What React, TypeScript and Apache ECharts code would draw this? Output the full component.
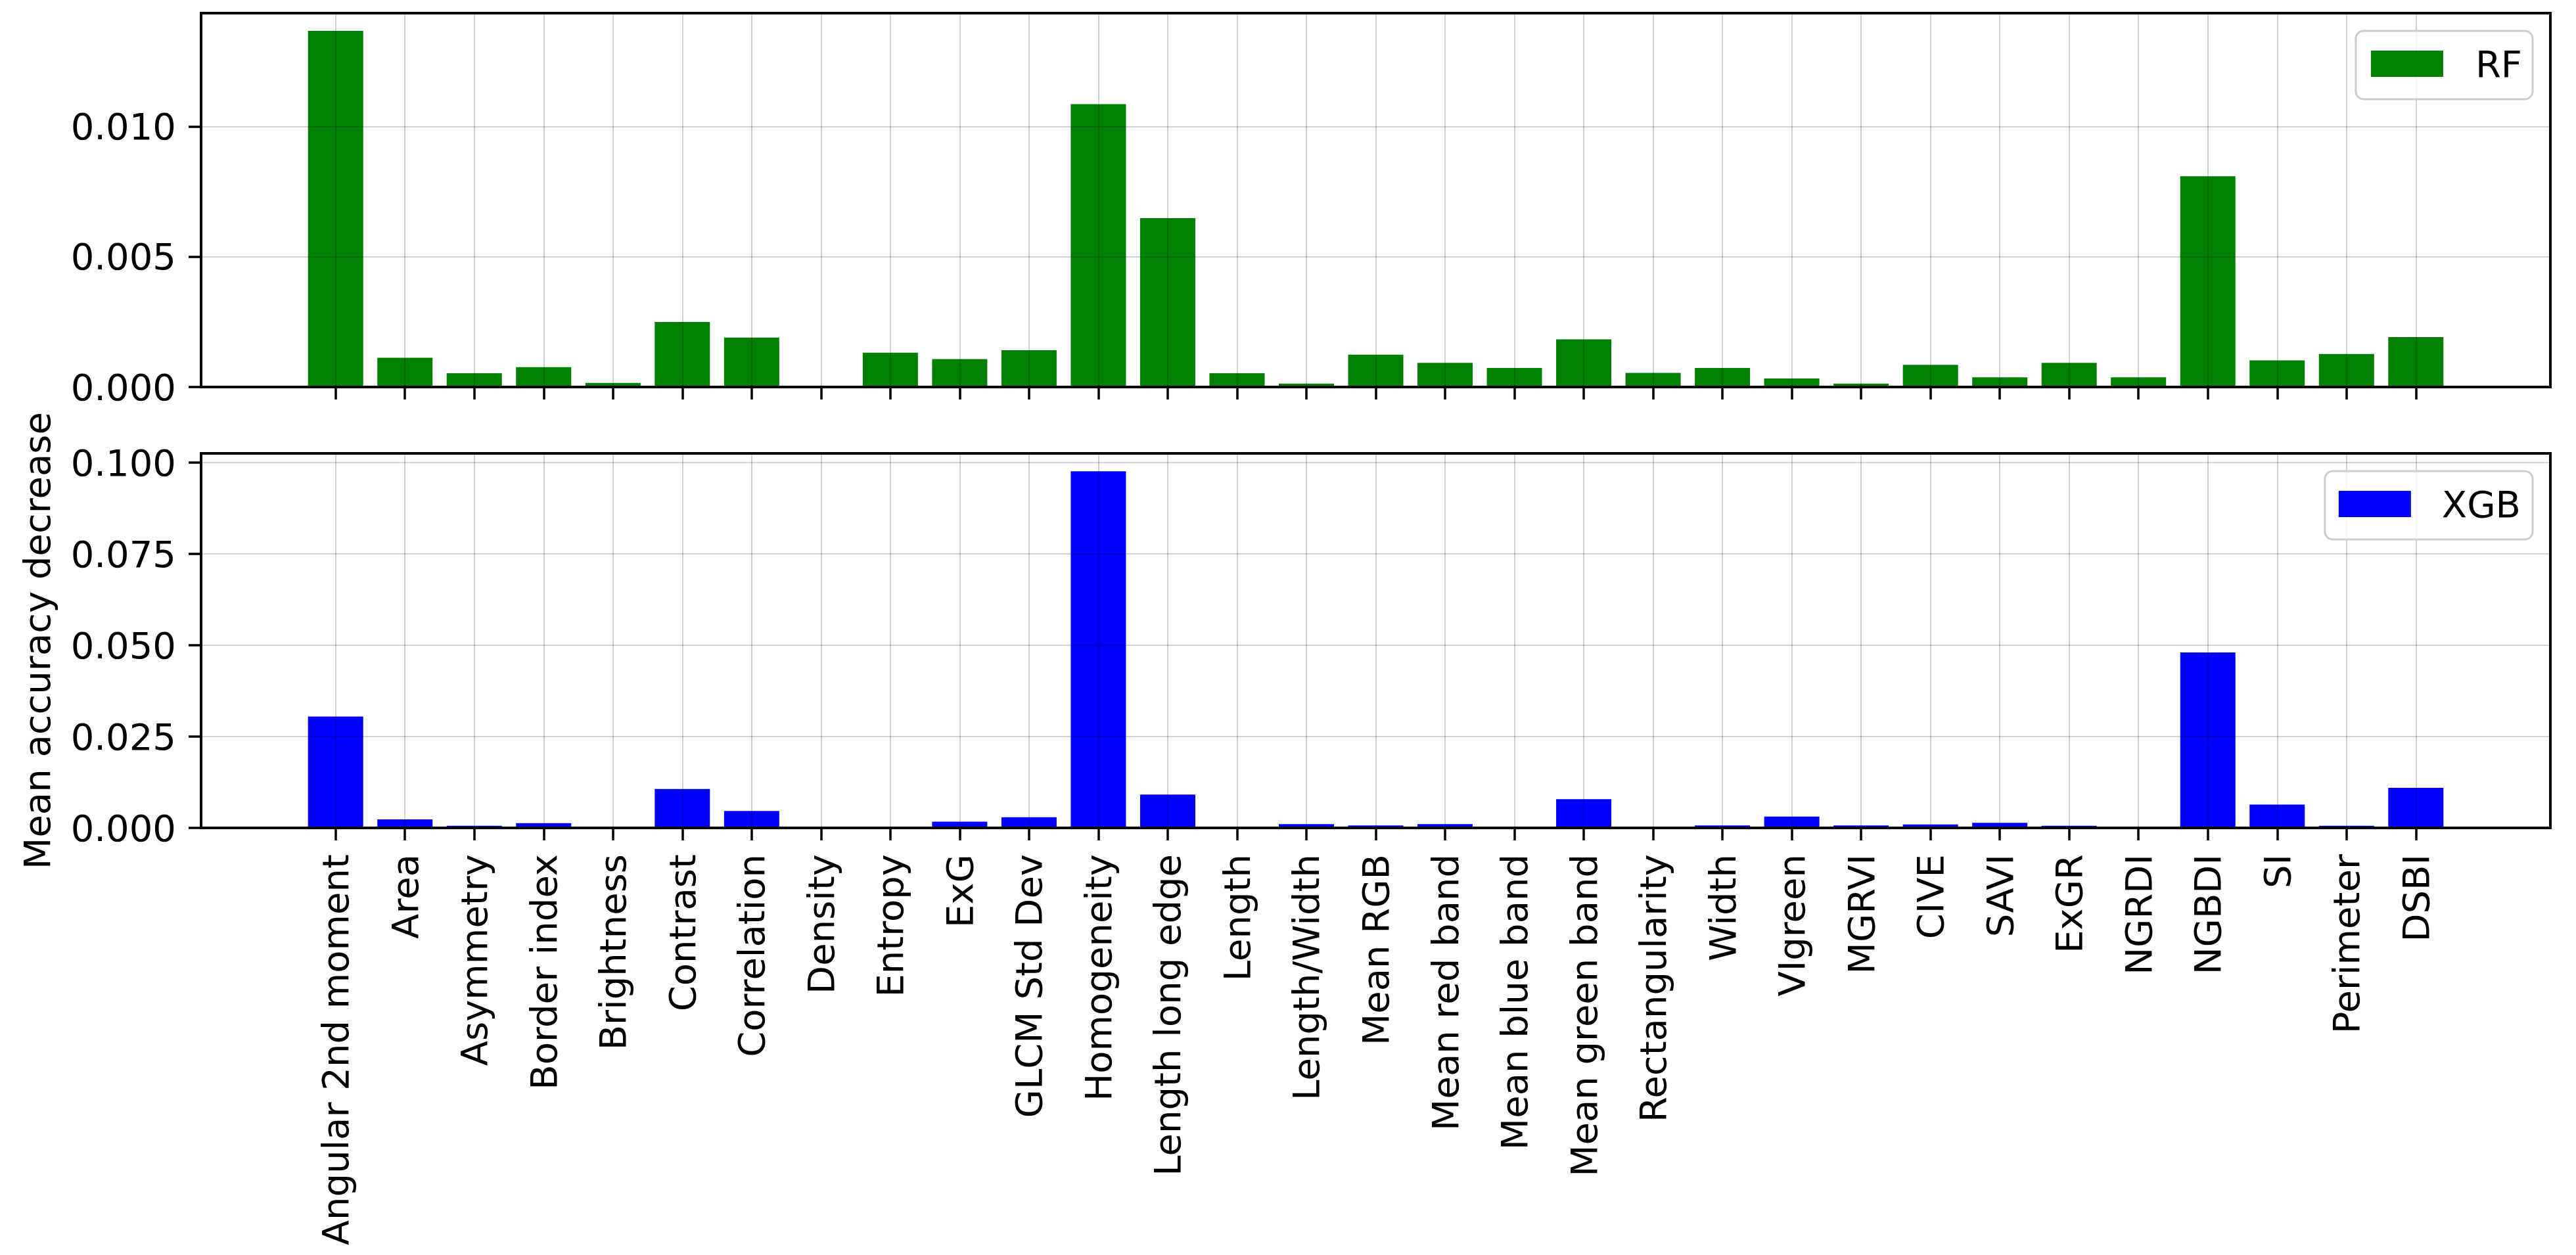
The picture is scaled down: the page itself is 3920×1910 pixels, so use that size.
import React, { useEffect, useRef } from "react";
import * as echarts from "echarts";

const categories = [
  "Angular 2nd moment", "Area", "Asymmetry", "Border index", "Brightness",
  "Contrast", "Correlation", "Density", "Entropy", "ExG", "GLCM Std Dev",
  "Homogeneity", "Length long edge", "Length", "Length/Width", "Mean RGB",
  "Mean red band", "Mean blue band", "Mean green band", "Rectangularity",
  "Width", "VIgreen", "MGRVI", "CIVE", "SAVI", "ExGR", "NGRDI", "NGBDI",
  "SI", "Perimeter", "DSBI",
];

const rfValues = [
  0.01367, 0.00112, 0.00053, 0.00076, 0.00016, 0.0025, 0.0019, 0, 0.00132,
  0.00107, 0.00141, 0.01086, 0.00648, 0.00053, 0.00013, 0.00124, 0.00093,
  0.00073, 0.00183, 0.00054, 0.00073, 0.00033, 0.00013, 0.00085, 0.00037,
  0.00093, 0.00037, 0.00809, 0.00102, 0.00127, 0.00192,
];

const xgbValues = [
  0.03051, 0.00235, 0.00059, 0.00132, 0, 0.01066, 0.00463, 0, 0, 0.00169,
  0.00294, 0.09765, 0.00912, 0, 0.00103, 0.00066, 0.00103, 0, 0.00787,
  0.0003, 0.00066, 0.00309, 0.00066, 0.00096, 0.0014, 0.00059, 0, 0.04801,
  0.0064, 0.00059, 0.01096,
];

const rfTicks = [0, 0.005, 0.01];
const xgbTicks = [0, 0.025, 0.05, 0.075, 0.1];

const FONT = "DejaVu Sans";
const GRID_COLOR = "rgba(0,0,0,0.18)";

export default function App() {
  const ref = useRef<HTMLDivElement>(null);

  useEffect(() => {
    if (!ref.current) return;
    const chart = echarts.init(ref.current, null, { renderer: "svg" });
    const idx = categories.map((_, i) => i);
    const span = categories.length - 1 + 0.8;
    const xMin = -0.4 - 0.05 * span;
    const xMax = categories.length - 1 + 0.4 + 0.05 * span;

    const makeX = (gridIndex: number, showLabels: boolean) => ({
      type: "value",
      gridIndex,
      min: xMin,
      max: xMax,
      z: 5,
      axisLine: { show: true, onZero: false, lineStyle: { color: "#000", width: 4 } },
      axisTick: {
        show: true,
        inside: false,
        length: 19,
        customValues: idx,
        lineStyle: { color: "#000", width: 3.5 },
      },
      axisLabel: {
        show: showLabels,
        customValues: idx,
        rotate: 90,
        margin: 40,
        fontSize: 56,
        color: "#000",
        fontFamily: FONT,
        formatter: (v: number) => categories[Math.round(v)] ?? "",
      },
      splitLine: { show: true, lineStyle: { color: GRID_COLOR, width: 2 } },
    });

    const makeY = (gridIndex: number, max: number, ticks: number[], name: string) => ({
      type: "value",
      gridIndex,
      min: 0,
      max,
      z: 5,
      axisLine: { show: true, onZero: false, lineStyle: { color: "#000", width: 4 } },
      axisTick: {
        show: true,
        inside: false,
        length: 19,
        customValues: ticks,
        lineStyle: { color: "#000", width: 3.5 },
      },
      axisLabel: {
        customValues: ticks,
        margin: 38,
        fontSize: 56,
        color: "#000",
        fontFamily: FONT,
        formatter: (v: number) => v.toFixed(3),
      },
      splitLine: { show: true, lineStyle: { color: GRID_COLOR, width: 2 } },
      name,
      nameLocation: "middle",
      nameGap: 222,
      nameTextStyle: { fontSize: 56, color: "#000", fontFamily: FONT },
    });

    const legendBase = {
      orient: "horizontal",
      right: 66,
      itemWidth: 110,
      itemHeight: 40,
      icon: "rect",
      selectedMode: false,
      backgroundColor: "rgba(255,255,255,0.8)",
      borderColor: "#cccccc",
      borderWidth: 3,
      borderRadius: 12,
      z: 20,
    };

    chart.setOption({
      animation: false,
      backgroundColor: "#ffffff",
      textStyle: { fontFamily: FONT },
      grid: [
        { left: 306, right: 39, top: 20, height: 569, show: true, borderColor: "#000", borderWidth: 4, backgroundColor: "transparent", outerBoundsMode: "none" },
        { left: 306, right: 39, top: 690, height: 570, show: true, borderColor: "#000", borderWidth: 4, backgroundColor: "transparent", outerBoundsMode: "none" },
      ],
      xAxis: [makeX(0, false), makeX(1, true)],
      yAxis: [
        makeY(0, Math.max(...rfValues) * 1.05, rfTicks, ""),
        makeY(1, Math.max(...xgbValues) * 1.05, xgbTicks, "Mean accuracy decrease"),
      ],
      legend: [
        {
          ...legendBase,
          data: ["RF"],
          top: 47,
          padding: [22, 16, 26, 23],
          textStyle: { fontSize: 56, color: "#000", fontFamily: FONT, padding: [0, 0, 0, 44], lineHeight: 52 },
        },
        {
          ...legendBase,
          data: ["XGB"],
          top: 717,
          padding: [22, 18, 26, 21],
          textStyle: { fontSize: 56, color: "#000", fontFamily: FONT, padding: [0, 0, 0, 42], lineHeight: 52 },
        },
      ],
      series: [
        {
          type: "bar",
          name: "RF",
          xAxisIndex: 0,
          yAxisIndex: 0,
          barWidth: 84,
          itemStyle: { color: "#008000" },
          data: rfValues.map((v, i) => [i, v]),
        },
        {
          type: "bar",
          name: "XGB",
          xAxisIndex: 1,
          yAxisIndex: 1,
          barWidth: 84,
          itemStyle: { color: "#0000ff" },
          data: xgbValues.map((v, i) => [i, v]),
        },
      ],
    });

    return () => chart.dispose();
  }, []);

  return (
    <div
      ref={ref}
      style={{ position: "fixed", left: 0, top: 0, width: "3920px", height: "1910px" }}
    />
  );
}
